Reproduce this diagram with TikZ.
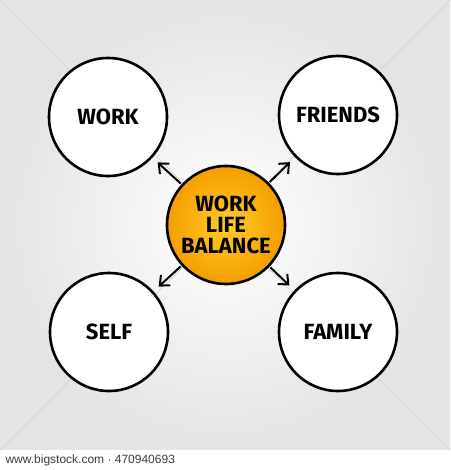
\documentclass[tikz,border=0pt]{standalone}
\usepackage{fontspec}
\setmainfont{Fira Sans}
\newfontfamily\capfont{Liberation Sans}
\usetikzlibrary{arrows.meta}
\begin{document}
\begin{tikzpicture}[x=1pt,y=-1pt,
  bubble/.style={circle,draw=black,line width=2.6pt,minimum size=118pt,inner sep=0pt,font=\fontsize{22}{24}\selectfont\bfseries},
  hub/.style={bubble,inner color={rgb,255:red,255;green,204;blue,40},outer color={rgb,255:red,245;green,158;blue,0},font=\fontsize{22}{21}\selectfont\bfseries,align=center},
  link/.style={line width=2pt,-{Straight Barb[length=8pt,width=14pt,line width=2pt]},shorten <=1pt,shorten >=7pt},
  wline/.style={draw={rgb,255:red,210;green,210;blue,210},line width=0.7pt}]
\useasboundingbox (0,0) rectangle (450,470);
\shade[inner color=white,outer color={rgb,255:red,228;green,228;blue,228}] (0,0) rectangle (450,450);
\fill[white] (0,450) rectangle (450,470);
\draw[wline] (0,0) -- (450,450);
\draw[wline] (450,0) -- (0,450);
\node[text={rgb,255:red,60;green,60;blue,60},font=\capfont\fontsize{12}{14}\selectfont,anchor=west] (cap) at (2,460) {www.bigstock.com · 470940693};
\node[bubble,fill=white] (work) at (108,117) {WORK};
\node[bubble,fill=white] (friends) at (338,115) {FRIENDS};
\node[bubble,fill=white] (self) at (109,332) {SELF};
\node[bubble,fill=white] (family) at (338,332) {FAMILY};
\node[hub] (wlb) at (226,225) {WORK\\LIFE\\BALANCE};
\draw[link] (wlb) -- (work);
\draw[link] (wlb) -- (friends);
\draw[link] (wlb) -- (self);
\draw[link] (wlb) -- (family);
\end{tikzpicture}
\end{document}
